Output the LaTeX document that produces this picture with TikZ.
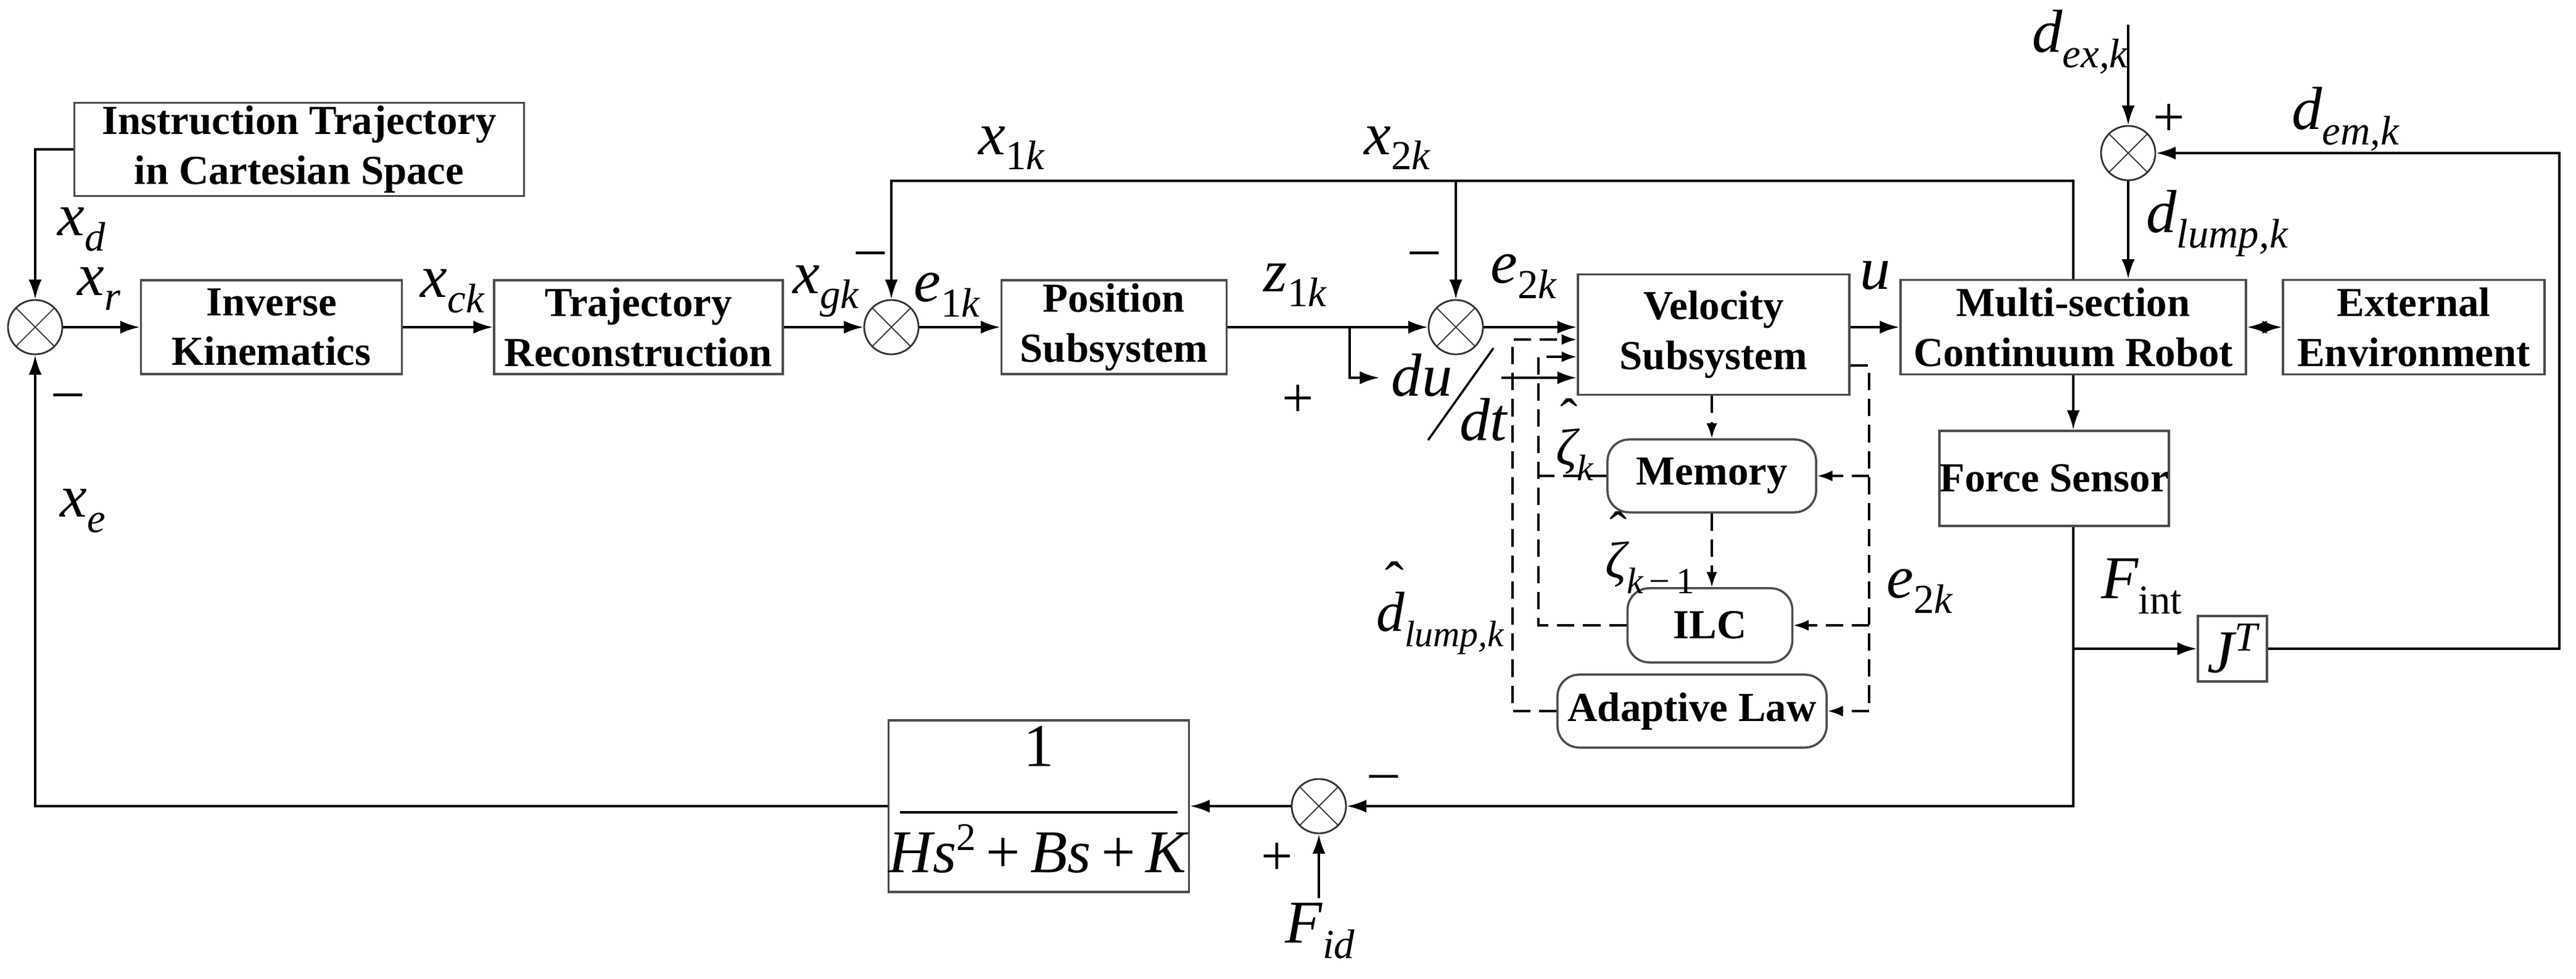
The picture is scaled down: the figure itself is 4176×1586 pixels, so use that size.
\documentclass[tikz,border=0pt]{standalone}
\usepackage{fontspec}
\setmainfont{Liberation Serif}
\usetikzlibrary{arrows.meta,calc}
\newcommand{\lb}[2]{{\fontsize{28}{28}\selectfont\itshape #1}\raisebox{-7pt}{\fontsize{19}{19}\selectfont\itshape #2}}
\newcommand{\up}[1]{{\upshape #1}}
\newcommand{\hatted}[2]{\rlap{\hspace{#2}\raisebox{14pt}{\upshape ˆ}}#1}
\begin{document}
\begin{tikzpicture}[x=0.01cm,y=-0.01cm,
  >={Latex[length=9pt,width=6pt]},
  every path/.style={line width=1.1pt},
  blk/.style={draw=black!70,line width=1pt,align=center,inner sep=0pt,font=\fontsize{19}{23}\selectfont\bfseries},
  rblk/.style={blk,rounded corners=0.35cm},
  sum/.style={circle,draw=black!80,line width=0.8pt,minimum size=0.88cm,inner sep=0pt,
    path picture={\draw[line width=0.5pt] (path picture bounding box.north west)--(path picture bounding box.south east) (path picture bounding box.north east)--(path picture bounding box.south west);}},
  dsh/.style={line width=1pt,dash pattern=on 8pt off 4pt},
  da/.style={-{Latex[length=7pt,width=5pt]}},
  sg/.style={font=\fontsize{26}{26}\selectfont}
]
\useasboundingbox (0,0) rectangle (4176,1586);
% blocks
\node[blk,minimum width=7.29cm,minimum height=1.51cm] (instr) at (485,242) {Instruction Trajectory\\in Cartesian Space};
\node[sum] (s1) at (57,530) {};
\node[blk,minimum width=4.23cm,minimum height=1.52cm] (ik) at (440,530) {Inverse\\Kinematics};
\node[blk,minimum width=4.68cm,minimum height=1.52cm] (tr) at (1035,530) {Trajectory\\Reconstruction};
\node[sum] (s2) at (1445,530) {};
\node[blk,minimum width=3.65cm,minimum height=1.52cm] (pos) at (1806,530) {Position\\Subsystem};
\node[sum] (s3) at (2360,530) {};
\node[blk,minimum width=4.4cm,minimum height=1.95cm] (vel) at (2778,542) {Velocity\\Subsystem};
\node[blk,minimum width=5.6cm,minimum height=1.53cm] (multi) at (3361,530) {Multi-section\\Continuum Robot};
\node[blk,minimum width=4.24cm,minimum height=1.53cm] (ext) at (3913,530) {External\\Environment};
\node[sum] (sT) at (3450,248) {};
\node[blk,minimum width=3.6cm,minimum height=1.54cm] (force) at (3330,775) {Force Sensor};
\node[blk,minimum width=1.12cm,minimum height=1.06cm,font=\fontsize{28}{28}\selectfont\itshape] (jt) at (3619,1051) {J\raisebox{10pt}{\fontsize{19}{19}\selectfont T}};
\node[rblk,minimum width=3.38cm,minimum height=1.18cm] (mem) at (2775,771) {Memory};
\node[rblk,minimum width=2.67cm,minimum height=1.2cm] (ilc) at (2772,1013) {ILC};
\node[rblk,minimum width=4.36cm,minimum height=1.18cm] (adp) at (2743,1152) {Adaptive Law};
\node[blk,minimum width=4.87cm,minimum height=2.1cm,font=\fontsize{28}{30}\selectfont] (tf) at (1684,1306)
  {\begin{tabular}{@{}c@{}}1\\[-8pt]\rule{4.5cm}{1.3pt}\\[-4pt]\textit{Hs}\raisebox{10pt}{\fontsize{18}{18}\selectfont 2}\,+\,\textit{Bs}\,+\,\textit{K}\end{tabular}};
\node[sum] (s4) at (2138,1306) {};
% coordinates
\coordinate (tl) at (3361,293);
\coordinate (zb) at (2188,530);
\coordinate (duend) at (2236,612);
\coordinate (dtst) at (2434,612);
\coordinate (dex) at (3450,40);
\coordinate (fb) at (3361,1306);
\coordinate (jb) at (3361,1051);
\coordinate (jr) at (4149,1051);
\coordinate (fid) at (2138,1455);
\coordinate (R1) at (3030,592);
\coordinate (L1) at (2452,550);
\coordinate (L2) at (2494,578);
% main chain
\draw[->] (instr.west) -| (s1.north);
\draw[->] (s1.east) -- (ik.west);
\draw[->] (ik.east) -- (tr.west);
\draw[->] (tr.east) -- (s2.west);
\draw[->] (s2.east) -- (pos.west);
\draw[->] (pos.east) -- (s3.west);
\draw[->] (zb) |- (duend);
\draw[->] (dtst) -- (vel.west |- dtst);
\draw[->] (s3.east) -- (vel.west |- s3.east);
\draw[->] (vel.east |- multi.west) -- (multi.west);
\draw[->] (multi.north -| tl) -- (tl) -| (s2.north);
\draw[->] (s3.north |- tl) -- (s3.north);
\draw[->] (dex) -- (sT.north);
\draw[->] (sT.south) -- (sT.south |- multi.north);
\draw[<->] (multi.east) -- (ext.west);
\draw[->] (multi.south) -- (force.north -| multi.south);
\draw[->] (force.south -| fb) -- (fb) -- (s4.east);
\draw[->] (jb) -- (jt.west);
\draw[->] (jt.east) -- (jr) |- (sT.east);
\draw[->] (s4.west) -- (tf.east);
\draw[->] (tf.west) -| (s1.south);
\draw[->] (fid) -- (s4.south);
% dashed
\draw[dsh,da] (vel.south -| mem.north) -- (mem.north);
\draw[dsh,da] (mem.south) -- (ilc.north -| mem.south);
\draw[dsh] (vel.east |- R1) -- (R1) -- (R1 |- adp.east);
\draw[dsh,da] (R1 |- mem.east) -- (mem.east);
\draw[dsh,da] (R1 |- ilc.east) -- (ilc.east);
\draw[dsh,da] (R1 |- adp.east) -- (adp.east);
\draw[dsh,da] (adp.west) -- (L1 |- adp.west) -- (L1) -- (vel.west |- L1);
\draw[dsh,da] (ilc.west) -- (L2 |- ilc.west) -- (L2) -- (vel.west |- L2);
\draw[dsh] (mem.west) -- (L2 |- mem.west);
% du/dt
\node[anchor=center] (du) at (2305,608) {\fontsize{28}{28}\selectfont\itshape du};
\node[anchor=center] (dt) at (2405,680) {\fontsize{28}{28}\selectfont\itshape dt};
\coordinate (sl1) at (2421,564);
\coordinate (sl2) at (2315,713);
\draw[line width=1pt] (sl1) -- (sl2);
% labels
\node[anchor=west] (lxd) at (80,372) {\lb{x}{d}};
\node[anchor=west] (lxr) at (112,468) {\lb{x}{r}};
\node[sg] (m1) at (110,650) {\textendash};
\node[anchor=west] (lxe) at (84,828) {\lb{x}{e}};
\node[anchor=west] (lxck) at (668,472) {\lb{x}{ck}};
\node[anchor=west] (lxgk) at (1272,472) {\lb{x}{gk}};
\node[sg] (m2) at (1411,420) {\textendash};
\node[anchor=west] (le1) at (1468,478) {\lb{e}{\up{1}k}};
\node[anchor=west] (lz1) at (2035,462) {\lb{z}{\up{1}k}};
\node[sg] (p1) at (2104,650) {+};
\node[anchor=center] (lx1) at (1640,240) {\lb{x}{\up{1}k}};
\node[anchor=center] (lx2) at (2265,240) {\lb{x}{\up{2}k}};
\node[sg] (m3) at (2309,420) {\textendash};
\node[anchor=center] (le2) at (2470,448) {\lb{e}{\up{2}k}};
\node[anchor=center] (lu) at (3040,458) {\lb{u}{}};
\node[anchor=center,inner sep=0pt] (lzk) at (2553,712) {{\fontsize{24}{24}\selectfont\itshape\hatted{ζ}{2pt}}\raisebox{-7pt}{\fontsize{17}{17}\selectfont\itshape k}};
\node[anchor=center,inner sep=0pt] (lzk1) at (2675,895) {{\fontsize{24}{24}\selectfont\itshape\hatted{ζ}{2pt}}\raisebox{-7pt}{\fontsize{17}{17}\selectfont\itshape k\upshape\,\textminus\,1}};
\node[anchor=east,inner sep=0pt] (ldh) at (2440,985) {{\fontsize{26}{26}\selectfont\itshape\hatted{d}{4pt}}\raisebox{-7pt}{\fontsize{17}{17}\selectfont\itshape lump,k}};
\node[anchor=center] (le2b) at (3112,958) {\lb{e}{\up{2}k}};
\node[anchor=center] (lfint) at (3472,950) {\lb{F}{\up{int}}};
\node[sg] (m4) at (2243,1268) {\textendash};
\node[sg] (p4) at (2070,1392) {+};
\node[anchor=center] (lfid) at (2140,1508) {\lb{F}{id}};
\node[anchor=center] (ldex) at (3372,68) {\lb{d}{ex,k}};
\node[sg] (pT) at (3516,195) {+};
\node[anchor=center] (ldem) at (3802,193) {\lb{d}{em,k}};
\node[anchor=center] (ldl) at (3594,362) {\lb{d}{lump,k}};
\end{tikzpicture}
\end{document}
